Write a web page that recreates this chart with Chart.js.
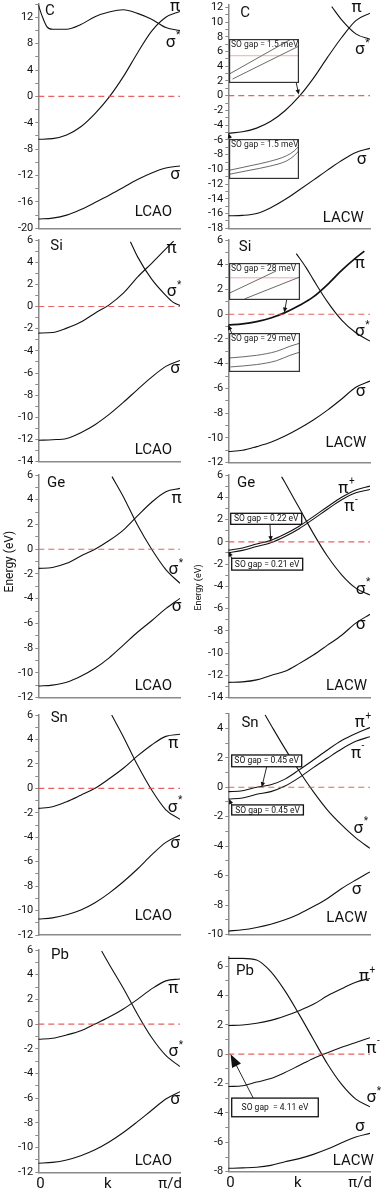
<!DOCTYPE html>
<html><head><meta charset="utf-8">
<script src="https://cdn.jsdelivr.net/npm/chart.js@4.4.1/dist/chart.umd.min.js"></script>
<style>
html,body{margin:0;padding:0;background:#fff;}
body{position:relative;width:381px;height:1192px;overflow:hidden;}
canvas{position:absolute;display:block;}
</style></head><body>
<script>
// ---------- DATA ----------
const K = [0,0.1,0.2,0.3,0.4,0.5,0.6,0.7,0.8,0.9,1];
const kTickVals = [0.015,0.49,0.93];
const kTickText = ['0','k','π/d'];

// C
const kC_L_top = [0,0.025,0.06,0.1,0.2,0.3,0.4,0.5,0.6,0.7,0.8,0.9,1];
const eC_L_top = [13.9,12.3,10.6,10.2,10.2,10.9,12.1,12.8,13.15,12.6,11.7,10.45,10.0];
const eC_L_mid = [-6.5,-6.4,-5.85,-4.6,-2.6,-0.1,3.0,6.6,9.9,12.0,12.9];
const eC_L_sig = [-18.6,-18.45,-18.0,-17.15,-16.1,-15.0,-13.8,-12.6,-11.6,-10.85,-10.55];
const eC_R_pi  = [-5.1,-4.9,-4.4,-3.47,-2.04,-0.1,2.36,5.2,7.9,10.2,11.2];
const kC_R_ss  = [0.73,0.8,0.9,1];
const eC_R_ss  = [12.1,10.3,8.4,7.66];
const eC_R_sig = [-16.3,-16.25,-16.0,-15.2,-14.1,-12.8,-11.46,-10.1,-8.8,-7.7,-7.15];
// Si
const kSi_L_pi = [0,0.1,0.2,0.3,0.4,0.5,0.6,0.7,0.8,0.9,0.955];
const eSi_L_pi = [-2.4,-2.35,-1.95,-1.4,-0.6,0.15,1.2,2.65,3.9,5.2,5.9];
const kSi_L_ss = [0.65,0.7,0.8,0.9,0.95,1];
const eSi_L_ss = [5.85,4.5,2.47,1.0,0.4,0.1];
const eSi_L_sig = [-12.07,-12.02,-11.9,-11.38,-10.66,-9.73,-8.65,-7.49,-6.37,-5.4,-4.86];
const kSi_R_pi = [0,0.1,0.2,0.3,0.4,0.5,0.6,0.7,0.8,0.9,0.96];
const eSi_R_pi = [-0.87,-0.78,-0.6,-0.3,0.13,0.7,1.4,2.4,3.55,4.56,5.1];
const kSi_R_ss = [0.48,0.55,0.6,0.7,0.8,0.9,1];
const eSi_R_ss = [4.9,3.75,2.8,1.0,-0.47,-1.5,-2.17];
const eSi_R_sig = [-11.1,-11.0,-10.7,-10.35,-9.85,-9.24,-8.55,-7.75,-6.85,-5.9,-5.4];
// Ge
const eGe_L_pi = [-1.55,-1.47,-1.14,-0.55,0.0,0.7,1.55,2.7,3.8,4.65,4.92];
const kGe_L_ss = [0.52,0.6,0.7,0.8,0.9,1];
const eGe_L_ss = [5.87,4.25,1.95,0.0,-1.64,-2.76];
const eGe_L_sig = [-11.06,-10.98,-10.75,-10.27,-9.62,-8.78,-7.75,-6.71,-5.78,-4.8,-3.97];
const eGe_R_piP = [-0.75,-0.55,-0.2,0.13,0.7,1.4,2.26,3.15,4.0,4.65,5.0];
const eGe_R_piM = [-0.97,-0.77,-0.42,-0.09,0.48,1.18,2.04,2.93,3.78,4.4,4.7];
const kGe_R_ss = [0.376,0.4,0.5,0.6,0.7,0.8,0.9,1];
const eGe_R_ss = [5.85,5.32,3.05,0.76,-1.3,-2.96,-4.16,-4.78];
const eGe_R_sig = [-12.62,-12.58,-12.4,-12.0,-11.63,-10.94,-10.17,-9.28,-8.39,-7.3,-6.51];
// Sn
const eSn_L_pi = [-1.64,-1.5,-1.09,-0.56,0.0,0.78,1.64,2.65,3.55,4.25,4.42];
const kSn_L_ss = [0.518,0.6,0.7,0.8,0.9,1];
const eSn_L_ss = [6.0,4.23,1.9,-0.14,-1.76,-2.54];
const eSn_L_sig = [-10.69,-10.6,-10.35,-9.96,-9.36,-8.57,-7.64,-6.6,-5.45,-4.42,-3.82];
const eSn_R_piP = [-0.3,-0.24,0.0,0.17,0.55,1.18,1.85,2.53,3.17,3.65,4.05];
const eSn_R_piM = [-0.8,-0.73,-0.48,-0.3,0.08,0.65,1.33,1.97,2.6,3.12,3.43];
const kSn_R_ss = [0.26,0.3,0.4,0.5,0.6,0.7,0.8,0.9,1];
const eSn_R_ss = [4.9,4.24,2.62,1.1,-0.3,-1.55,-2.56,-3.44,-4.15];
const eSn_R_sig = [-9.76,-9.68,-9.52,-9.3,-9.0,-8.6,-8.1,-7.55,-6.88,-6.3,-5.75];
// Pb
const ePb_L_pi = [-1.23,-1.15,-0.88,-0.54,0.0,0.57,1.22,2.0,2.85,3.5,3.65];
const kPb_L_ss = [0.447,0.5,0.6,0.7,0.8,0.9,1];
const ePb_L_ss = [5.92,4.85,2.9,0.8,-1.09,-2.54,-3.44];
const ePb_L_sig = [-11.27,-11.2,-11.0,-10.66,-10.18,-9.55,-8.78,-7.9,-6.98,-6.07,-5.47];
const ePb_R_piP = [1.95,1.98,2.1,2.3,2.6,2.96,3.39,3.97,4.45,4.9,5.15];
const ePb_R_piM = [-2.2,-2.15,-1.9,-1.66,-1.25,-0.77,-0.29,0.1,0.47,0.8,1.12];
const ePb_R_ss = [6.52,6.52,6.41,5.62,4.31,2.71,1.02,-0.67,-2.06,-3.06,-3.58];
const ePb_R_sig = [-7.77,-7.74,-7.7,-7.57,-7.32,-7.11,-6.82,-6.46,-6.03,-5.64,-5.39];

// inset (zoomed) views, local 0..1 coordinates
const uC1a = [0,0.89],  wC1a = [0.2,1.0];
const uC1b = [0.05,1],  wC1b = [0.09,0.84];
const fermiC1 = 0.62;
const uC2 = [0.01,0.3,0.58,0.82,0.93,1];
const wC2a = [0.22,0.33,0.44,0.58,0.7,0.82];
const wC2b = [0.12,0.22,0.32,0.45,0.58,0.71];
const uSi1a = [0,0.66], wSi1a = [0.18,0.78];
const uSi1b = [0.22,1], wSi1b = [0.03,0.625];
const fermiSi1 = 0.6;
const uSi2a = [0.01,0.387,0.67,0.858,1], wSi2a = [0.36,0.427,0.53,0.66,0.74];
const uSi2b = [0.02,0.387,0.67,0.858,1], wSi2b = [0.13,0.19,0.29,0.427,0.51];

// y tick labels
const yC_L  = [-20,-16,-12,-8,-4,0,4,8,12];
const yC_R  = [-18,-16,-14,-12,-10,-8,-6,-4,-2,0,2,4,6,8,10,12];
const ySi_L = [-14,-12,-10,-8,-6,-4,-2,0,2,4,6];
const ySi_R = [-12,-10,-8,-6,-4,-2,0,2,4,6];
const yGe_L = [-12,-10,-8,-6,-4,-2,0,2,4,6];
const yGe_R = [-14,-12,-10,-8,-6,-4,-2,0,2,4,6];
const ySn_L = [-12,-10,-8,-6,-4,-2,0,2,4,6];
const ySn_R = [-10,-8,-6,-4,-2,0,2,4];
const yPb_L = [-12,-10,-8,-6,-4,-2,0,2,4,6];
const yPb_R = [-8,-6,-4,-2,0,2,4,6];

// ---------- LAYOUT / STYLE ----------
const FONT = 'Roboto, "Open Sans", sans-serif';
const AX = '#8a8a8a';
const INK = '#111';
const RED = 'rgba(224,72,72,0.85)';
Chart.defaults.font.family = FONT;
const COLS = [{x:0,w:190,x0:38.3,x1:180},{x:190,w:191,x0:228.3,x1:370}];

const panels = [
 {col:0, top:4.14, bot:228.3, min:-20, max:14, yt:yC_L, minor:2,
  curves:[[kC_L_top,eC_L_top],[K,eC_L_mid],[K,eC_L_sig]],
  labels:[['C','',.082,12.9,15],['π','',.965,13.6,17],['σ','*',.934,8.2,17],['σ','',.965,-11.9,17],['LCAO','',.812,-17.5,15]]},
 {col:1, top:4.38, bot:228.3, min:-18, max:12.4, yt:yC_R, minor:1,
  curves:[[K,eC_R_pi],[kC_R_ss,eC_R_ss],[K,eC_R_sig]],
  labels:[['C','',.118,11.2,15],['π','',.906,11.9,17],['σ','*',.929,6.2,17],['σ','',.941,-8.7,17],['LACW','',.812,-16.6,15]],
  arrows:[[.478,1.9,.497,0.15],[.012,-5.8,.001,-5.1]],
  insets:[{k0:.005,k1:.499,e0:7.7,e1:1.73,title:'SO gap = 1.5 meV',lines:[[uC1a,wC1a],[uC1b,wC1b]],fermi:fermiC1},
          {k0:.005,k1:.502,e0:-5.93,e1:-11.3,title:'SO gap = 1.5 meV',lines:[[uC2,wC2a],[uC2,wC2b]],fermi:null}]},
 {col:0, top:240, bot:461.7, min:-14, max:6, yt:ySi_L, minor:1,
  curves:[[kSi_L_pi,eSi_L_pi],[kSi_L_ss,eSi_L_ss],[K,eSi_L_sig]],
  labels:[['Si','',.129,5.4,15],['π','',.941,5.25,17],['σ','*',.941,1.34,17],['σ','',.965,-5.58,17],['LCAO','',.812,-12.95,15]]},
 {col:1, top:240, bot:462.7, min:-12, max:6, yt:ySi_R, minor:1,
  curves:[[kSi_R_pi,eSi_R_pi,1.7],[kSi_R_ss,eSi_R_ss],[K,eSi_R_sig]],
  labels:[['Si','',.118,5.38,15],['π','',.929,4.11,17],['σ','*',.929,-1.41,17],['σ','',.934,-6.26,17],['LACW','',.83,-10.44,15]],
  arrows:[[.412,1.15,.395,0.14],[.024,-1.54,0,-0.87]],
  insets:[{k0:.007,k1:.506,e0:4.16,e1:1.15,title:'SO gap = 28 meV',lines:[[uSi1a,wSi1a],[uSi1b,wSi1b]],fermi:fermiSi1},
          {k0:.007,k1:.506,e0:-1.54,e1:-4.69,title:'SO gap = 29 meV',lines:[[uSi2a,wSi2a],[uSi2b,wSi2b]],fermi:null}]},
 {col:0, top:475, bot:697.7, min:-12, max:6, yt:yGe_L, minor:1,
  curves:[[K,eGe_L_pi],[kGe_L_ss,eGe_L_ss],[K,eGe_L_sig]],
  labels:[['Ge','',.125,5.33,15],['π','',.976,4.11,17],['σ','*',.953,-1.68,17],['σ','',.976,-4.65,17],['LCAO','',.812,-11.06,15]],
  vtexts:[['Energy (eV)',9.5,-1.0,12]]},
 {col:1, top:475, bot:697.7, min:-14, max:6, yt:yGe_R, minor:1,
  curves:[[K,eGe_R_piP],[K,eGe_R_piM],[kGe_R_ss,eGe_R_ss],[K,eGe_R_sig]],
  labels:[['Ge','',.125,5.25,15],['π','+',.812,4.8,17],['π','-',.854,3.16,17],['σ','*',.934,-4.27,17],['σ','',.934,-7.47,17],['LACW','',.835,-13.0,15]],
  boxes:[['SO gap = 0.22 eV',.017,.518,2.56,1.57],['SO gap = 0.21 eV',.024,.525,-1.48,-2.54]],
  arrows:[[.294,1.57,.30,0.07],[.024,-1.48,.002,-0.87]],
  vtexts:[['Energy (eV)',8.3,-4.1,9]]},
 {col:0, top:715, bot:935, min:-12, max:6, yt:ySn_L, minor:1,
  curves:[[K,eSn_L_pi],[kSn_L_ss,eSn_L_ss],[K,eSn_L_sig]],
  labels:[['Sn','',.148,5.73,15],['π','',.953,3.68,17],['σ','*',.948,-1.55,17],['σ','',.965,-4.55,17],['LCAO','',.812,-10.44,15]]},
 {col:1, top:713.6, bot:934.5, min:-10, max:5, yt:ySn_R, minor:1,
  curves:[[K,eSn_R_piP],[K,eSn_R_piM],[kSn_R_ss,eSn_R_ss],[K,eSn_R_sig]],
  labels:[['Sn','',.153,4.34,15],['π','+',.929,4.38,17],['π','-',.901,2.3,17],['σ','*',.918,-2.79,17],['σ','',.906,-6.98,17],['LACW','',.836,-8.9,15]],
  boxes:[['SO gap = 0.45 eV',.024,.518,2.19,1.39],['SO gap = 0.45 eV',.024,.53,-1.2,-1.88]],
  arrows:[[.271,1.39,.236,0.0],[.024,-1.2,.005,-0.8]]},
 {col:0, top:950, bot:1172.3, min:-12, max:6, yt:yPb_L, minor:1, last:true,
  curves:[[K,ePb_L_pi],[kPb_L_ss,ePb_L_ss],[K,ePb_L_sig]],
  labels:[['Pb','',.153,5.6,15],['π','',.953,2.9,17],['σ','*',.953,-2.23,17],['σ','',.965,-6.14,17],['LCAO','',.812,-11.13,15]]},
 {col:1, top:957.2, bot:1171.7, min:-8, max:6.6, yt:yPb_R, minor:1, last:true,
  curves:[[K,ePb_R_piP],[K,ePb_R_piM],[K,ePb_R_ss],[K,ePb_R_sig]],
  labels:[['Pb','',.118,5.61,15],['π','+',.958,5.27,17],['π','-',1.01,0.4,17],['σ','*',1.01,-3.0,17],['σ','',.929,-4.94,17],['LACW','',.882,-7.32,15]],
  boxes:[['SO gap  = 4.11 eV',.024,.635,-2.99,-4.26]],
  arrows:[[.176,-2.99,.016,0.0,13,5]]}
];

// ---------- DRAWING ----------
function makeAnnot(p) {
  return {
    id: 'annot',
    afterDatasetsDraw(chart) {
      const ctx = chart.ctx, sx = chart.scales.x, sy = chart.scales.y;
      const X = v => sx.getPixelForValue(v), Y = v => sy.getPixelForValue(v);
      ctx.save();
      (p.boxes || []).forEach(b => {
        const x = X(b[1]), y = Y(b[3]), w = X(b[2]) - x, h = Y(b[4]) - y;
        ctx.fillStyle = '#fff'; ctx.fillRect(x, y, w, h);
        ctx.strokeStyle = INK; ctx.lineWidth = 1.3; ctx.strokeRect(x, y, w, h);
        ctx.fillStyle = INK; ctx.font = '8.5px ' + FONT;
        ctx.textAlign = 'center'; ctx.textBaseline = 'middle';
        ctx.fillText(b[0], x + w / 2, y + h / 2 + 0.5);
      });
      (p.arrows || []).forEach(a => {
        const x0 = X(a[0]), y0 = Y(a[1]), x1 = X(a[2]), y1 = Y(a[3]);
        const hl = a[4] || 5, hw = a[5] || 2.2;
        const c = Math.cos(Math.atan2(y1 - y0, x1 - x0)), s = Math.sin(Math.atan2(y1 - y0, x1 - x0));
        ctx.strokeStyle = INK; ctx.lineWidth = 0.9;
        ctx.beginPath(); ctx.moveTo(x0, y0); ctx.lineTo(x1 - c * hl * 0.8, y1 - s * hl * 0.8); ctx.stroke();
        ctx.fillStyle = INK; ctx.beginPath(); ctx.moveTo(x1, y1);
        ctx.lineTo(x1 - c * hl + s * hw, y1 - s * hl - c * hw);
        ctx.lineTo(x1 - c * hl - s * hw, y1 - s * hl + c * hw);
        ctx.closePath(); ctx.fill();
      });
      (p.labels || []).forEach(l => {
        const [t, sup, k, e, f] = l; const x = X(k), y = Y(e);
        ctx.fillStyle = INK; ctx.font = f + 'px ' + FONT;
        ctx.textAlign = 'center'; ctx.textBaseline = 'middle';
        ctx.fillText(t, x, y);
        if (sup) {
          const w = ctx.measureText(t).width;
          ctx.font = Math.round(f * 0.6) + 'px ' + FONT; ctx.textAlign = 'left';
          ctx.fillText(sup, x + w / 2 + 0.5, y - f * 0.38);
        }
      });
      (p.vtexts || []).forEach(v => {
        ctx.save(); ctx.translate(v[1], Y(v[2])); ctx.rotate(-Math.PI / 2);
        ctx.font = v[3] + 'px ' + FONT; ctx.fillStyle = INK;
        ctx.textAlign = 'center'; ctx.textBaseline = 'middle';
        ctx.fillText(v[0], 0, 0); ctx.restore();
      });
      ctx.restore();
    }
  };
}

function makeInset(ins, L, T, W, H) {
  const iv = document.createElement('canvas');
  iv.width = W; iv.height = H;
  iv.style.left = L + 'px'; iv.style.top = T + 'px';
  document.body.appendChild(iv);
  const ds = [];
  if (ins.fermi !== null) ds.push({data:[{x:0,y:ins.fermi},{x:1,y:ins.fermi}], borderColor:'rgba(220,80,80,0.6)', borderWidth:0.8, pointRadius:0});
  ins.lines.forEach(ln => ds.push({data: ln[0].map((u, i) => ({x:u, y:ln[1][i]})), borderColor:'#444', borderWidth:0.8, pointRadius:0, cubicInterpolationMode:'monotone'}));
  new Chart(iv, {
    type:'line', data:{datasets:ds},
    options:{responsive:false, animation:false, devicePixelRatio:1, layout:{padding:0},
      plugins:{legend:{display:false}, tooltip:{enabled:false}},
      scales:{x:{type:'linear', display:false, min:0, max:1}, y:{type:'linear', display:false, min:0, max:1}}},
    plugins:[{id:'deco',
      beforeDraw(ch){ const c = ch.ctx; c.save(); c.fillStyle='#fff'; c.fillRect(0,0,W,H); c.restore(); },
      afterDraw(ch){ const c = ch.ctx; c.save();
        c.font = '8.5px ' + FONT; c.fillStyle = '#222'; c.textAlign = 'left'; c.textBaseline = 'top';
        c.fillText(ins.title, 2, 2);
        c.strokeStyle = '#333'; c.lineWidth = 1.2; c.strokeRect(0.6, 0.6, W - 1.2, H - 1.2);
        c.restore(); }}]
  });
}

function makePanel(p) {
  const c = COLS[p.col];
  const xH = p.last ? 22 : 0;
  const cTop = Math.floor(p.top) - 14;
  const cBot = Math.ceil(p.bot) + (p.last ? 26 : 9);
  const H = cBot - cTop;
  const cv = document.createElement('canvas');
  cv.width = c.w; cv.height = H;
  cv.style.left = c.x + 'px'; cv.style.top = cTop + 'px';
  document.body.appendChild(cv);

  const all = [];
  for (let v = Math.ceil(p.min / p.minor) * p.minor; v <= p.max + 1e-9; v += p.minor) all.push(v);

  const ds = [{data:[{x:0,y:0},{x:1,y:0}], borderColor:RED, borderWidth:1.2, borderDash:[6,4], pointRadius:0}];
  p.curves.forEach(cu => ds.push({
    data: cu[0].map((k, i) => ({x:k, y:cu[1][i]})),
    borderColor: INK, borderWidth: cu[2] || 1.1, pointRadius: 0, cubicInterpolationMode: 'monotone'
  }));

  const chart = new Chart(cv, {
    type:'line', data:{datasets:ds},
    options:{
      responsive:false, animation:false, devicePixelRatio:1,
      layout:{padding:{top: p.top - cTop, bottom: H - (p.bot - cTop) - xH, left:0, right: c.w - (c.x1 - c.x)}},
      plugins:{legend:{display:false}, tooltip:{enabled:false}},
      scales:{
        x:{type:'linear', min:0, max:1,
           afterFit(s){ s.height = xH; },
           afterBuildTicks(s){ s.ticks = kTickVals.map(v => ({value:v})); },
           grid:{display:false, drawTicks:false},
           border:{display:true, color:AX, width:1.5},
           ticks:{display: !!p.last, padding:3, autoSkip:false, maxRotation:0, color:INK,
                  font:{size:15, family:FONT}, callback:(v, i) => kTickText[i]}},
        y:{type:'linear', min:p.min, max:p.max,
           afterFit(s){ s.width = c.x0 - c.x; },
           afterBuildTicks(s){ s.ticks = all.map(v => ({value:v})); },
           grid:{display:true, drawOnChartArea:false, drawTicks:true, tickLength:3, color:AX},
           border:{display:true, color:AX, width:1.5},
           ticks:{padding:2, autoSkip:false, color:INK, font:{size:11, family:FONT},
                  callback:(v) => p.yt.includes(v) ? String(v) : ''}}
      }
    },
    plugins:[makeAnnot(p)]
  });

  (p.insets || []).forEach(ins => {
    const sx = chart.scales.x, sy = chart.scales.y;
    const L = Math.round(c.x + sx.getPixelForValue(ins.k0));
    const R = Math.round(c.x + sx.getPixelForValue(ins.k1));
    const T = Math.round(cTop + sy.getPixelForValue(ins.e0));
    const B = Math.round(cTop + sy.getPixelForValue(ins.e1));
    makeInset(ins, L, T, R - L, B - T);
  });
}

panels.forEach(makePanel);
</script>
</body></html>
